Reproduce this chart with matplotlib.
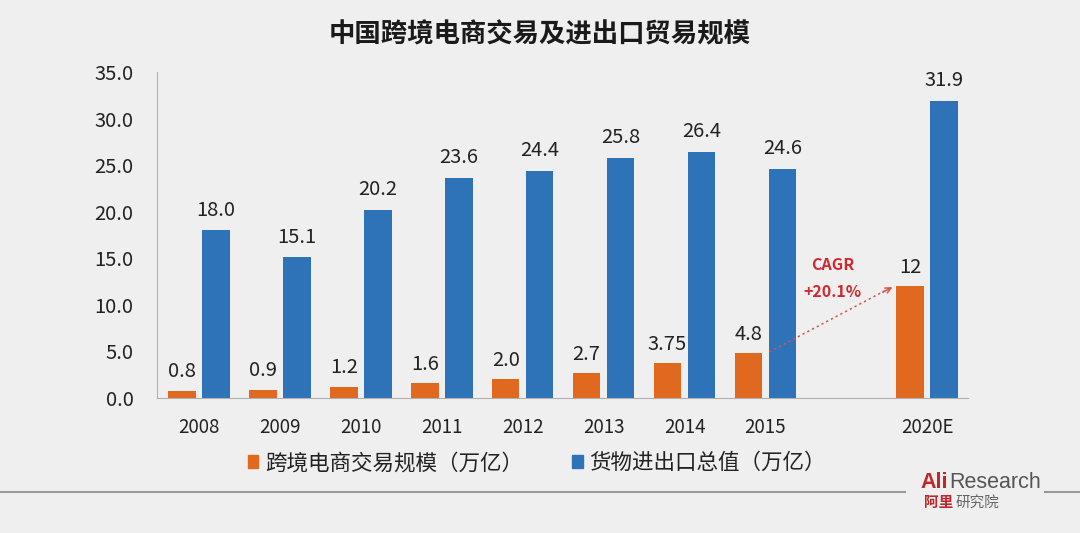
import matplotlib.pyplot as plt
from matplotlib.patches import Patch
import numpy as np

plt.rcParams['font.family'] = ['Noto Sans CJK SC', 'DejaVu Sans']

# --- datos ---
years = ['2008', '2009', '2010', '2011', '2012', '2013', '2014', '2015', '2020E']
ecommerce = [0.8, 0.9, 1.2, 1.6, 2.0, 2.7, 3.75, 4.8, 12]
ecommerce_labels = ['0.8', '0.9', '1.2', '1.6', '2.0', '2.7', '3.75', '4.8', '12']
trade = [18.0, 15.1, 20.2, 23.6, 24.4, 25.8, 26.4, 24.6, 31.9]
slots = [0, 1, 2, 3, 4, 5, 6, 7, 9]  # hueco antes de 2020E

BG = '#efefef'
ORANGE = '#e0691f'
BLUE = '#2e73b8'
RED = '#d0282f'

fig = plt.figure(figsize=(10.8, 5.33), dpi=100, facecolor=BG)
ax = fig.add_axes([0.1454, 0.2533, 0.7506, 0.6117], facecolor=BG)

x = np.array(slots, dtype=float)
w = 0.34
off = 0.21
ax.bar(x - off, ecommerce, width=w, color=ORANGE, zorder=2)
ax.bar(x + off, trade, width=w, color=BLUE, zorder=2)

for xi, v, lab in zip(x, ecommerce, ecommerce_labels):
    ax.annotate(lab, (xi - off, v), xytext=(0, 6), textcoords='offset points',
                ha='center', va='bottom', fontsize=14.5, color='#222222')
for xi, v in zip(x, trade):
    ax.annotate(f'{v:.1f}', (xi + off, v), xytext=(0, 7), textcoords='offset points',
                ha='center', va='bottom', fontsize=14.5, color='#222222')

ax.set_xlim(-0.52, 9.5)
ax.set_ylim(0, 35)
ax.set_yticks(np.arange(0, 36, 5))
ax.set_yticklabels([f'{t:.1f}' for t in np.arange(0, 36, 5)])
ax.set_xticks(x)
ax.set_xticklabels(years)
ax.tick_params(axis='y', length=0, pad=17, labelsize=14.5, labelcolor='#222222')
ax.tick_params(axis='x', length=0, pad=14, labelsize=13.5, labelcolor='#222222')
for s in ['top', 'right']:
    ax.spines[s].set_visible(False)
ax.spines['left'].set_color('#b0b0b0')
ax.spines['bottom'].set_color('#b0b0b0')

# CAGR: linea punteada + punta de flecha
ax.plot([7.05, 8.55], [4.95, 11.85], color='#d9534f', linestyle=(0, (1.5, 2)), lw=1.1, zorder=3)
ax.annotate('', xy=(8.57, 11.9), xytext=(8.45, 11.35),
            arrowprops=dict(arrowstyle='->', color='#d9534f', lw=1.1, shrinkA=0, shrinkB=0))
ax.text(7.83, 14.3, 'CAGR', color=RED, fontsize=11.5, fontweight='bold', ha='center', va='center')
ax.text(7.83, 11.4, '+20.1%', color=RED, fontsize=11.5, fontweight='bold', ha='center', va='center')

fig.text(0.5, 0.934, '中国跨境电商交易及进出口贸易规模', ha='center', va='center',
         fontsize=19, fontweight='bold', color='#1a1a1a')

handles = [Patch(color=ORANGE), Patch(color=BLUE)]
fig.legend(handles, ['跨境电商交易规模（万亿）', '货物进出口总值（万亿）'],
           loc='center', bbox_to_anchor=(0.497, 0.131), ncol=2, frameon=False,
           fontsize=15.5, handlelength=0.5, handleheight=0.5, handletextpad=0.3,
           columnspacing=2.3, labelcolor='#222222')

# linea inferior y logo
fig.add_artist(plt.Line2D([0, 0.838], [0.077, 0.077], color='#999999', lw=1.5))
fig.add_artist(plt.Line2D([0.968, 1], [0.077, 0.077], color='#999999', lw=1.5))
ali = fig.text(0.852, 0.094, 'Ali', color='#c0272d', fontsize=15.5, fontweight='bold',
               family='Liberation Sans', ha='left', va='center')
plt.annotate('Research', xy=(1.0, 0.0), xycoords=ali, xytext=(1, 0), textcoords='offset points',
             color='#555555', fontsize=15.5, family='Liberation Sans', ha='left', va='bottom',
             annotation_clip=False)
ali_cn = fig.text(0.856, 0.058, '阿里', color='#c0272d', fontsize=10.5, fontweight='bold',
                  ha='left', va='center')
plt.annotate('研究院', xy=(1.0, 0.0), xycoords=ali_cn, xytext=(1, 0), textcoords='offset points',
             color='#666666', fontsize=10.5, ha='left', va='bottom', annotation_clip=False)

fig.savefig('out.png', dpi=100, facecolor=BG)
